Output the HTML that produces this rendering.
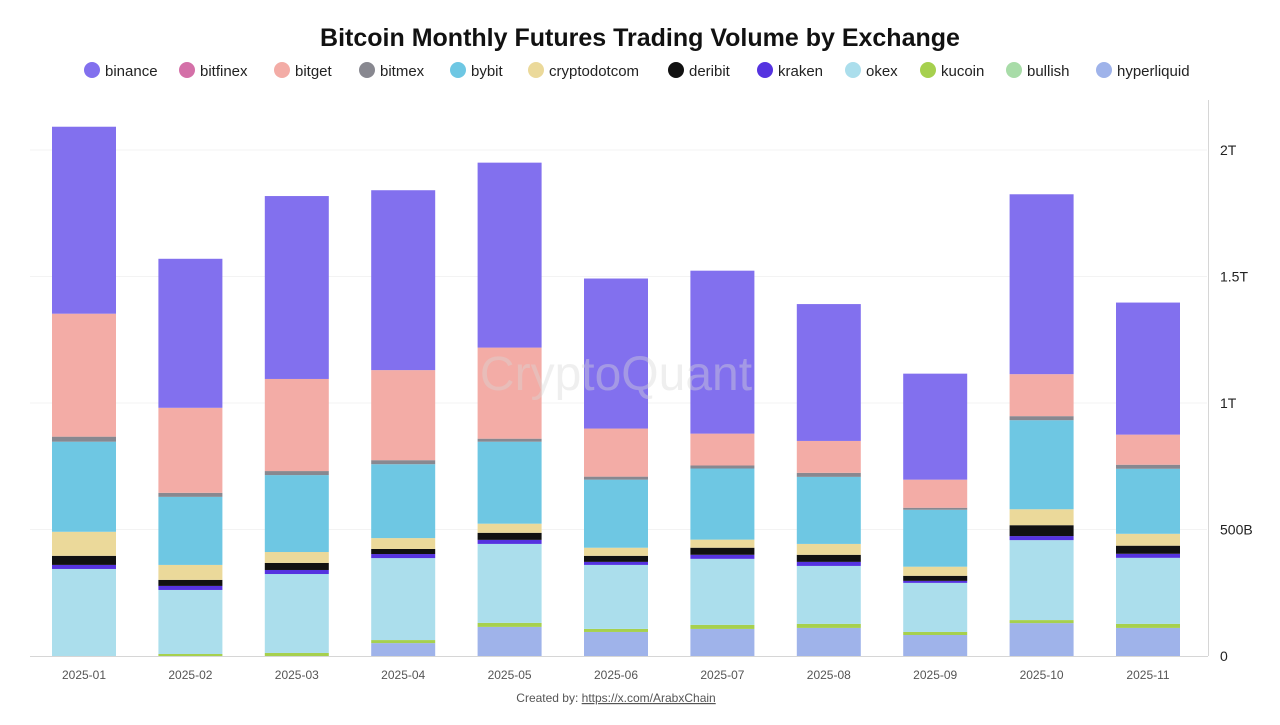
<!DOCTYPE html>
<html><head><meta charset="utf-8"><style>
body{margin:0;background:#fff;font-family:"Liberation Sans",sans-serif}
svg text{font-family:"Liberation Sans",sans-serif}
</style></head><body>
<svg id="c" width="1280" height="720">
<text x="640" y="46" text-anchor="middle" font-size="25" font-weight="bold" fill="#111">Bitcoin Monthly Futures Trading Volume by Exchange</text>
<text x="616" y="702" text-anchor="middle" font-size="12" fill="#555">Created by: <tspan text-decoration="underline">https://x.com/ArabxChain</tspan></text>
<g id="grid"></g><g id="bars"></g><g id="axes"></g><g id="legend"></g>
<text x="616" y="390" text-anchor="middle" font-size="48" fill="#d8d8d8" fill-opacity="0.4">CryptoQuant</text>
</svg>
<script>
const months=["2025-01","2025-02","2025-03","2025-04","2025-05","2025-06","2025-07","2025-08","2025-09","2025-10","2025-11"];
const seriesNames=["hyperliquid","bullish","kucoin","okex","kraken","deribit","cryptodotcom","bybit","bitmex","bitget","bitfinex","binance"];
const colors=["#9fb3ea","#a8dca8","#a6d04e","#abdeec","#5533e0","#111111","#ebd99a","#6ec7e3","#888890","#f3aca6","#d470a8","#8270ee"];
const hyperliquid=[0,0,0,0.051,0.115,0.095,0.107,0.111,0.083,0.130,0.111];
const bullish=[0,0,0,0,0,0,0,0,0,0,0];
const kucoin=[0,0.008,0.012,0.012,0.016,0.012,0.016,0.016,0.012,0.012,0.016];
const okex=[0.344,0.253,0.312,0.324,0.312,0.253,0.261,0.229,0.194,0.316,0.261];
const kraken=[0.016,0.016,0.016,0.016,0.016,0.012,0.016,0.016,0.008,0.016,0.016];
const deribit=[0.036,0.024,0.028,0.020,0.028,0.024,0.028,0.028,0.020,0.043,0.032];
const cryptodotcom=[0.095,0.059,0.043,0.043,0.036,0.032,0.032,0.043,0.036,0.063,0.047];
const bybit=[0.356,0.269,0.304,0.292,0.324,0.269,0.281,0.265,0.225,0.352,0.257];
const bitmex=[0.020,0.016,0.016,0.016,0.012,0.012,0.012,0.016,0.008,0.016,0.016];
const bitget=[0.486,0.336,0.364,0.356,0.360,0.190,0.126,0.126,0.111,0.166,0.119];
const bitfinex=[0,0,0,0,0,0,0,0,0,0,0];
const binance=[0.739,0.589,0.723,0.711,0.731,0.593,0.644,0.541,0.419,0.711,0.522];
const tickValues=[0,0.5,1,1.5,2];
const tickLabels=["0","500B","1T","1.5T","2T"];
const legendOrder=["binance","bitfinex","bitget","bitmex","bybit","cryptodotcom","deribit","kraken","okex","kucoin","bullish","hyperliquid"];
const data=[hyperliquid,bullish,kucoin,okex,kraken,deribit,cryptodotcom,bybit,bitmex,bitget,bitfinex,binance];
const NS="http://www.w3.org/2000/svg";
const y0=656,pxPerT=253,x0=30.8,band=106.4,bw=64;
const yS=v=>y0-v*pxPerT;
const xS=i=>x0+band*i+band/2;
function mk(t,a,p){const e=document.createElementNS(NS,t);for(const k in a)e.setAttribute(k,a[k]);p.appendChild(e);return e;}
const G=document.getElementById('grid'),B=document.getElementById('bars'),A=document.getElementById('axes'),L=document.getElementById('legend');
tickValues.forEach((v,i)=>{
  if(i>0){const g=mk('line',{x1:30,x2:1207,y1:yS(v),y2:yS(v),stroke:'#f3f3f3'},G);
  
  }
  const t=mk('text',{x:1220,y:yS(v)+5,'font-size':14,fill:'#222'},A);t.textContent=tickLabels[i];
  
  
});
const ax=mk('line',{x1:30,x2:1208,y1:y0+0.5,y2:y0+0.5,stroke:'#d6d6d6'},A);


const ay=mk('line',{x1:1208.5,x2:1208.5,y1:100,y2:y0,stroke:'#d6d6d6'},A);


months.forEach((m,i)=>{
  let acc=0;
  data.forEach((s,j)=>{
    const v=s[i];if(v<=0){return;}
    const r=mk('rect',{x:xS(i)-bw/2,y:yS(acc+v),width:bw,height:v*pxPerT,fill:colors[j]},B);
    
    
    acc+=v;
  });
  const t=mk('text',{x:xS(i),y:679,'text-anchor':'middle','font-size':12,fill:'#555'},A);t.textContent=m;
  
  
});
const lx=[92,187,282,367,458,536,676,765,853,928,1014,1104];
legendOrder.forEach((n,i)=>{
  const g=mk('g',{},L);
  
  
  mk('circle',{cx:lx[i],cy:70,r:8,fill:colors[seriesNames.indexOf(n)]},g);
  const t=mk('text',{x:lx[i]+13,y:76,'font-size':15,fill:'#222'},g);t.textContent=n;
});
</script>
</body></html>
